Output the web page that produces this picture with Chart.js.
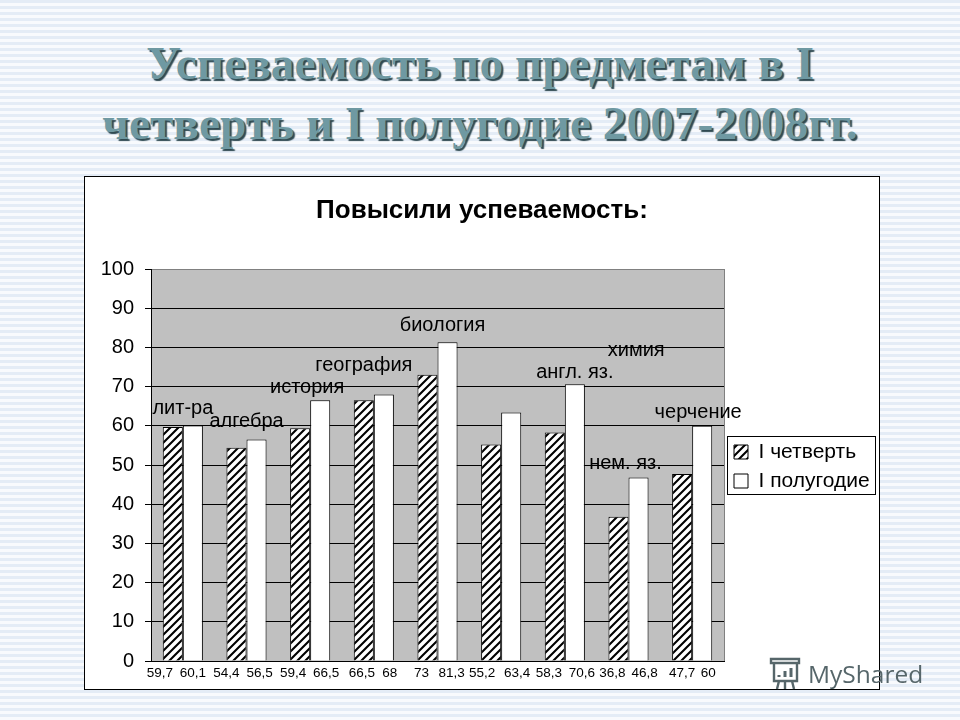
<!DOCTYPE html>
<html lang="ru">
<head>
<meta charset="UTF-8">
<title>Успеваемость по предметам</title>
<script src="https://cdn.jsdelivr.net/npm/chart.js"></script>
<style>
    * { box-sizing: border-box; margin: 0; padding: 0; }
    html, body { width: 960px; height: 720px; overflow: hidden; }
    body {
        position: relative;
        background: repeating-linear-gradient(to bottom, #e4ecf6 0, #e4ecf6 3px, #f8fafd 3px, #f8fafd 6px);
    }
    .slide-title {
        position: absolute;
        left: 0;
        top: 33px;
        width: 960px;
        text-align: center;
        font-family: "Liberation Serif", serif;
        font-weight: bold;
        font-size: 47.4px;
        line-height: 60px;
        color: #6f99a2;
        text-shadow: 2px 2px 1px #2f4a52;
    }
    .chart-box {
        position: absolute;
        left: 84px;
        top: 176px;
        width: 796px;
        height: 514px;
        background: #fff;
        border: 1px solid #000;
    }
    .watermark {
        position: absolute;
        left: 767px;
        top: 655px;
        display: flex;
        align-items: center;
        font-family: "Open Sans", sans-serif;
        font-size: 24.5px;
        color: #56666a;
    }
    .watermark svg { margin-right: 6px; }
</style>
</head>
<body>

<h1 class="slide-title">Успеваемость по предметам в I<br>четверть и I полугодие 2007-2008гг.</h1>

<div class="chart-box">
    <canvas id="gradesChart" width="794" height="512"></canvas>
</div>

<div class="watermark">
    <svg width="35" height="36" viewBox="0 0 35 36" fill="none" stroke="#56666a" stroke-width="2.4">
        <path d="M4 4h28v4H4zM7 8v18h23V8M12 26l-2 8M18 26v8M25 26l2 8"/>
        <path d="M12 22v-2M18 22v-6M24 22v-9" stroke-width="3"/>
    </svg>
    <span>MyShared</span>
</div>

<script>
    var subjects = ['лит-ра', 'алгебра', 'история', 'география', 'биология', 'химия', 'англ. яз.', 'нем. яз.', 'черчение'];
    var quarter = [59.7, 54.4, 59.4, 66.5, 73, 55.2, 58.3, 36.8, 47.7];
    var halfYear = [60.1, 56.5, 66.5, 68, 81.3, 63.4, 70.6, 46.8, 60];
    var yTicks = [0, 10, 20, 30, 40, 50, 60, 70, 80, 90, 100];

    // the captions were moved by hand in the original: height on the value axis, sideways shift from the group
    var captionLevel = [64.8, 61.5, 70.2, 76, 86.2, 79.6, 74.2, 51, 63.8];
    var captionShift = [0, 0, -3, -10, 5, 135, 10, -3, 6];

    // the value row under the bars does not line up evenly with the groups either
    var quarterLabelShift = [-13, -10, -7, -2, -6, -9, -6, -6, 0];
    var halfLabelShift = [0, 3, 6, 6, 4, 6, 7, 6, 6];

    function hatchPattern() {
        var size = 8;
        var c = document.createElement('canvas');
        c.width = size;
        c.height = size;
        var g = c.getContext('2d');
        g.fillStyle = '#fff';
        g.fillRect(0, 0, size, size);
        g.strokeStyle = '#000';
        g.lineWidth = 2.1;
        g.beginPath();
        g.moveTo(-1, size + 1);
        g.lineTo(size + 1, -1);
        g.moveTo(-1, 1);
        g.lineTo(1, -1);
        g.moveTo(size - 1, size + 1);
        g.lineTo(size + 1, size - 1);
        g.stroke();
        return g.createPattern(c, 'repeat');
    }

    // grey plot background, caption texts, value row and the legend frame
    var slidePlugin = {
        id: 'slidePlugin',
        beforeLayout: function (chart) {
            var lg = chart.legend;
            if (!lg.fixedFit) {
                var fit = lg.fit;
                lg.fit = function () {
                    fit.call(this);
                    this.width = 155;
                };
                lg.fixedFit = true;
            }
        },
        afterLayout: function (chart) {
            var lg = chart.legend;
            lg.left = 641;
            lg.top = 256.5;
            lg.bottom = 330;
        },
        beforeDraw: function (chart) {
            var a = chart.chartArea;
            var c = chart.ctx;
            c.fillStyle = '#c0c0c0';
            c.fillRect(a.left, a.top, a.right - a.left, a.bottom - a.top);
            c.strokeStyle = '#808080';
            c.lineWidth = 1;
            c.beginPath();
            c.moveTo(a.right + 0.5, a.top);
            c.lineTo(a.right + 0.5, a.bottom);
            c.stroke();
        },
        afterDraw: function (chart) {
            var ctx = chart.ctx;
            var x = chart.scales.x;
            var y = chart.scales.y;
            var first = chart.getDatasetMeta(0).data;
            var second = chart.getDatasetMeta(1).data;
            ctx.save();
            ctx.fillStyle = '#000';
            ctx.textAlign = 'center';
            ctx.textBaseline = 'middle';

            ctx.font = '20px "Liberation Sans"';
            subjects.forEach(function (name, i) {
                ctx.fillText(name, x.getPixelForValue(i) + captionShift[i], y.getPixelForValue(captionLevel[i]) + 2);
            });

            ctx.font = '13.5px "Liberation Sans"';
            subjects.forEach(function (name, i) {
                ctx.fillText(String(quarter[i]).replace('.', ','), first[i].x + quarterLabelShift[i], chart.chartArea.bottom + 12);
                ctx.fillText(String(halfYear[i]).replace('.', ','), second[i].x + halfLabelShift[i], chart.chartArea.bottom + 12);
            });

            ctx.strokeStyle = '#000';
            ctx.lineWidth = 1;
            ctx.strokeRect(642.5, 259.5, 148, 58);
            ctx.restore();
        }
    };

    var ctx = document.getElementById('gradesChart').getContext('2d');
    var gradesChart = new Chart(ctx, {
        type: 'bar',
        data: {
            labels: subjects,
            datasets: [{
                label: 'I четверть',
                data: quarter,
                backgroundColor: hatchPattern(),
                borderColor: '#000',
                borderWidth: 1
            }, {
                label: 'I полугодие',
                data: halfYear,
                backgroundColor: '#fff',
                borderColor: '#000',
                borderWidth: 1
            }]
        },
        options: {
            responsive: false,
            animation: false,
            devicePixelRatio: 1,
            layout: { padding: { bottom: 20 } },
            datasets: { bar: { categoryPercentage: 0.63, barPercentage: 1 } },
            scales: {
                x: {
                    grid: { display: false },
                    border: { color: '#000' },
                    ticks: { display: false }
                },
                y: {
                    min: 0,
                    max: 100,
                    afterFit: function (scale) { scale.width = 66; },
                    afterBuildTicks: function (scale) {
                        scale.ticks = yTicks.map(function (v) { return { value: v }; });
                    },
                    grid: {
                        color: function (c) { return c.tick && c.tick.value === 100 ? '#808080' : '#000'; },
                        tickColor: '#000',
                        lineWidth: 1,
                        tickLength: 6
                    },
                    border: { color: '#000' },
                    ticks: {
                        color: '#000',
                        padding: 11,
                        font: { family: '"Liberation Sans"', size: 20 }
                    }
                }
            },
            plugins: {
                title: {
                    display: true,
                    text: 'Повысили успеваемость:',
                    color: '#000',
                    font: { family: '"Liberation Sans"', size: 26, weight: 'bold', lineHeight: 1.2 },
                    padding: { top: 18, bottom: 42.8 }
                },
                legend: {
                    position: 'right',
                    align: 'start',
                    labels: {
                        color: '#000',
                        boxWidth: 14,
                        boxHeight: 14,
                        padding: 8,
                        font: { family: '"Liberation Sans"', size: 21 }
                    }
                },
                tooltip: { enabled: false }
            }
        },
        plugins: [slidePlugin]
    });
</script>

</body>
</html>
